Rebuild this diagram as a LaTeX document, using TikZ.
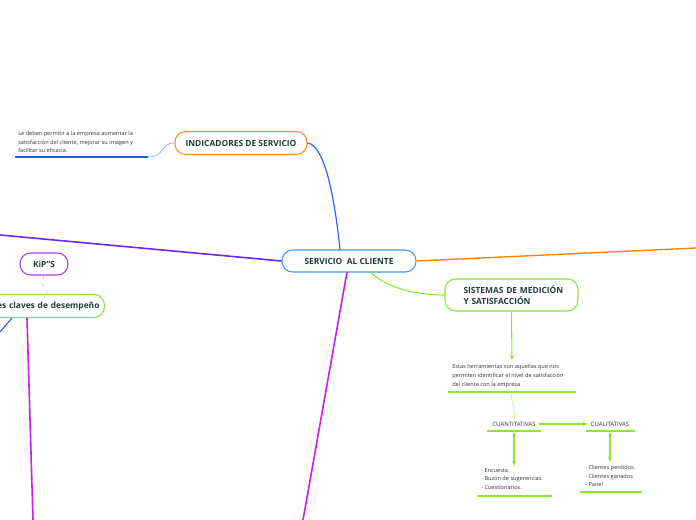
\documentclass[tikz,border=0pt]{standalone}
\usepackage{fontspec}
\setmainfont{Open Sans}
\usetikzlibrary{arrows.meta}
\definecolor{dk}{HTML}{1F3D3A}
\definecolor{lg}{HTML}{88E830}
\tikzset{
 x=0.75pt,y=-0.75pt,
 topic/.style={draw,rounded corners=8pt,line width=0.8pt,font=\bfseries\fontsize{6.3}{8}\selectfont,text=dk,inner sep=0pt},
 small/.style={font=\fontsize{4.2}{6.6}\selectfont,text=black!80,align=left,inner sep=0pt,anchor=west},
 uline/.style={line width=1pt,lg},
 garr/.style={lg,line width=0.8pt,-{Stealth[length=4pt]}},
}
\begin{document}
\begin{tikzpicture}
\useasboundingbox (0,0) rectangle (696,520);
\clip (0,0) rectangle (696,520);
% central
\node[topic,draw=blue!60!cyan!70,minimum width=134*0.75pt,minimum height=22*0.75pt] (c) at (349,261) {SERVICIO\ \ AL CLIENTE};
\node[topic,draw=orange!90,minimum width=132*0.75pt,minimum height=23*0.75pt] (ind) at (241,143) {INDICADORES DE SERVICIO};
\node[small] (indt) at (18,142) {Le deben permitir a la empresa aumentar la\\satisfacción del cliente, mejorar su imagen y\\facilitar su eficacia.};
\coordinate (u1a) at (15,157); \coordinate (u1b) at (148,157);
\draw[line width=1pt,color={rgb,255:red,30;green,90;blue,240}] (u1a) -- (u1b);
\draw[blue!40,line width=0.5pt] (u1b) .. controls (165,157) and (160,143) .. (ind.west);
\draw[line width=0.9pt,color={rgb,255:red,50;green,100;blue,255}] (ind.east) .. controls (325,145) and (335,200) .. (340,250);
\coordinate (pl) at (0,235);
\draw[line width=1.2pt,color={rgb,255:red,110;green,40;blue,230}] (c.west) -- (pl);
\coordinate (or) at (696,248);
\draw[line width=1pt,orange] (c.east) -- (or);
\coordinate (mg) at (303,520);
\draw[line width=1.2pt,color={rgb,255:red,200;green,30;blue,230}] (347,272) -- (mg);
% sistemas
\node[topic,draw=lg,minimum width=133*0.75pt,minimum height=32*0.75pt,text width=96*0.75pt,align=left] (sis) at (511.5,295) {\mbox{SISTEMAS DE MEDICIÓN}\\Y SATISFACCIÓN};
\draw[lg,line width=0.8pt] (370,272) .. controls (390,290) and (420,295) .. (sis.west);
\node[small] (est) at (452,376) {Estas herramientas son aquellas que nos\\permiten identificar el nivel de satisfacción\\del cliente con la empresa};
\draw[uline] (448,392) -- (576,392);
\coordinate (est1) at (512,360);
\draw[garr] (sis.south) -- (est1);
\node[font=\fontsize{4.5}{6}\selectfont,text=black!80,inner sep=1pt] (cuan) at (514,424) {CUANTITATIVAS};
\draw[uline] (487,431) -- (541,431);
\draw[lg!60,line width=0.5pt] (512,392) .. controls (510,402) and (516,408) .. (cuan.north);
\node[font=\fontsize{4.5}{6}\selectfont,text=black!80,inner sep=1pt] (cual) at (610,424) {CUALITATIVAS};
\draw[uline] (586,431) -- (635,431);
\draw[garr] (cuan.east) ++(2,0) -- ([xshift=-1pt]cual.west);
\node[small] (l1) at (481,479) {- Encuesta.\\- Buzón de sugerencias.\\- Cuestionarios.};
\draw[uline] (477,496) -- (552,496);
\coordinate (l1t) at (514,466);
\draw[garr] (514,433) -- (l1t);
\node[small] (l2) at (585,476) {- Clientes perdidos.\\- Clientes ganados.\\- Panel};
\draw[uline] (580,492) -- (642,492);
\coordinate (l2t) at (610,462);
\draw[garr] (610,433) -- (l2t);
% left
\node[topic,draw={rgb,255:red,180;green,60;blue,230},minimum width=48*0.75pt,minimum height=22*0.75pt] (kip) at (44,264) {KiP"S};
\node[topic,draw=lg,minimum width=150*0.75pt,minimum height=23*0.75pt,anchor=east,text width=140*0.75pt,align=right] (kcd) at (105,306) {es claves de desempeño};
\draw[dashed,black!25,line width=0.4pt] (kip.south) .. controls (42,285) .. (48,294);
\coordinate (m2) at (33,520);
\draw[line width=1.2pt,color={rgb,255:red,200;green,30;blue,230}] (27,318) -- (m2);
\coordinate (b2) at (0,332);
\draw[line width=0.9pt,color={rgb,255:red,50;green,100;blue,255}] (12,318) -- (b2);
\end{tikzpicture}
\end{document}
